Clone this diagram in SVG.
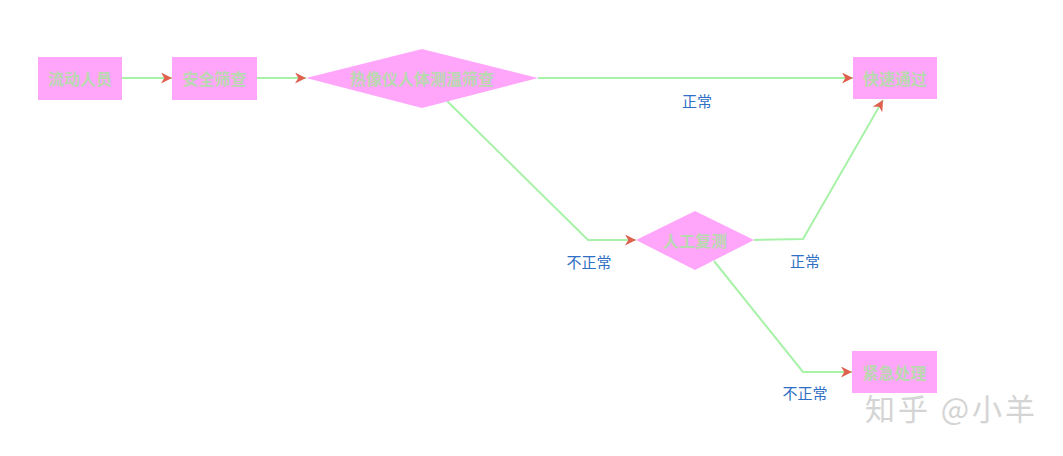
<svg xmlns="http://www.w3.org/2000/svg" width="1063" height="456" viewBox="0 0 1063 456">
<style>
.box{fill:#ffa6fb;}
.nt{font-family:"Noto Sans CJK SC","Liberation Sans",sans-serif;font-size:16px;font-weight:bold;fill:#b9d8b0;text-anchor:middle;dominant-baseline:central;}
.edge{fill:none;stroke:#a8f2a8;stroke-width:2;}
.lbl{font-family:"Noto Sans CJK SC","Liberation Sans",sans-serif;font-size:15px;fill:#2f70c4;text-anchor:middle;dominant-baseline:central;}
.wm{font-family:"Noto Sans CJK SC","Liberation Sans",sans-serif;font-size:30px;fill:#d4d4d4;letter-spacing:3px;}
</style>
<defs>
<marker id="arr" viewBox="0 0 10 10" refX="10" refY="5" markerWidth="11" markerHeight="11" markerUnits="userSpaceOnUse" orient="auto">
<path d="M0,0 L10,5 L0,10 L3,5 z" fill="#e0604f"/>
</marker>
</defs>
<rect width="1063" height="456" fill="#ffffff"/>
<g id="connectors">
<path class="edge" d="M122,78 L172,78" marker-end="url(#arr)"/>
<path class="edge" d="M257,78 L306,78" marker-end="url(#arr)"/>
<path class="edge" d="M538,78 L853,78" marker-end="url(#arr)"/>
<path class="edge" d="M447,101 L588,240 L636,240" marker-end="url(#arr)"/>
<path class="edge" d="M754,240 L803,239 L883,100" marker-end="url(#arr)"/>
<path class="edge" d="M714,261 L803,372 L852,372" marker-end="url(#arr)"/>
<text class="lbl" x="697" y="100">正常</text>
<text class="lbl" x="589" y="261">不正常</text>
<text class="lbl" x="805" y="260">正常</text>
<text class="lbl" x="805" y="392">不正常</text>
</g>
<g id="n1"><rect class="box" x="38" y="57" width="84" height="43"/><text class="nt" x="80" y="78">流动人员</text></g>
<g id="n2"><rect class="box" x="172" y="57" width="85" height="43"/><text class="nt" x="214.5" y="78">安全筛查</text></g>
<g id="n3"><polygon class="box" points="306,78 422,49 538,78 422,108"/><text class="nt" x="422" y="78">热像仪人体测温筛查</text></g>
<g id="n4"><rect class="box" x="853" y="57" width="84" height="42"/><text class="nt" x="895" y="78">快速通过</text></g>
<g id="n5"><polygon class="box" points="636,240 695,211 754,240 695,270"/><text class="nt" x="695" y="240">人工复测</text></g>
<g id="n6"><rect class="box" x="852" y="351" width="85" height="42"/><text class="nt" x="894.5" y="372">紧急处理</text></g>
<text class="wm" x="865" y="420">知乎 @小羊</text>
</svg>
